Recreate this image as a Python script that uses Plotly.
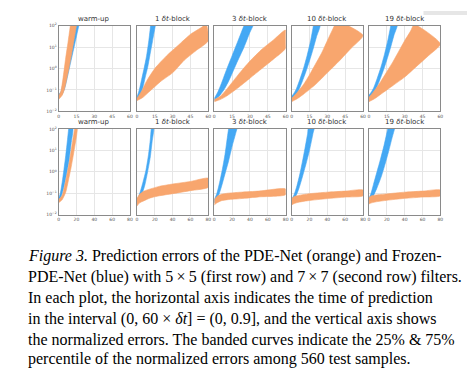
import plotly.graph_objects as go

W, H = 475, 369

TITLES = ["warm-up", "1 <i>δt</i>-block", "3 <i>δt</i>-block", "10 <i>δt</i>-block", "19 <i>δt</i>-block"]
ROW1_XTICKS = [0, 15, 30, 45, 60]
ROW2_XTICKS = [0, 20, 40, 60, 80]
Y_TICK_EXP = [-2, -1, 0, 1, 2]
Y_TICK_TEXT = ["10<sup>−2</sup>", "10<sup>−1</sup>", "10<sup>0</sup>", "10<sup>1</sup>", "10<sup>2</sup>"]
Y_LOG_RANGE = [-2, 2]

# Each edge: list of (time, log10 normalized error)
# ---- Row 1 (5x5 filters) ----
r1_warm_blue_hi = [(0, -1.22), (2, -1.08), (4, -0.6), (6, 0.1), (8, 0.8), (10, 1.5), (12, 2.2)]
r1_warm_blue_lo = [(0, -1.32), (3, -1.2), (5, -0.95), (7, -0.5), (9, 0.0), (11, 0.5), (13, 1.0), (15, 1.5), (17, 2.0), (18, 2.25)]
r1_warm_orange_hi = [(0, -1.3), (2, -1.05), (4, -0.35), (6, 0.5), (8, 1.25), (10, 2.05), (11, 2.4)]
r1_warm_orange_lo = [(0, -1.45), (3, -1.25), (5, -0.95), (7, -0.45), (9, 0.1), (11, 0.7), (13, 1.35), (15, 2.0), (16, 2.3)]

r1_b1_blue_hi = [(0, -1.35), (2, -1.0), (4, -0.5), (6, 0.0), (8, 0.55), (10, 1.3), (11.5, 2.0), (12, 2.2)]
r1_b1_blue_lo = [(0, -1.45), (3, -1.2), (5, -0.9), (7, -0.4), (9, 0.05), (11, 0.65), (13, 1.25), (15.5, 2.0), (16.5, 2.2)]
r1_b1_orange_hi = [(0, -1.4), (4, -1.05), (8, -0.6), (15, 0.0), (25, 0.6), (35, 1.1), (45, 1.6), (55, 1.95), (58, 2.1)]
r1_b1_orange_lo = [(0, -1.5), (5, -1.35), (10, -1.1), (20, -0.6), (30, -0.2), (40, 0.4), (50, 0.85), (60, 1.3)]

r1_b3_blue_hi = [(0, -1.4), (3, -1.1), (6, -0.7), (10, -0.1), (15, 0.6), (20, 1.3), (25, 2.0), (27, 2.2)]
r1_b3_blue_lo = [(0, -1.5), (4, -1.3), (8, -1.0), (12, -0.6), (16, -0.1), (20, 0.4), (25, 1.0), (30, 1.7), (33, 2.1)]
r1_b3_orange_hi = [(0, -1.45), (5, -1.3), (10, -1.0), (20, -0.3), (30, 0.35), (40, 0.9), (50, 1.35), (60, 1.8)]
r1_b3_orange_lo = [(0, -1.55), (5, -1.45), (10, -1.3), (20, -0.9), (30, -0.45), (40, 0.0), (50, 0.45), (60, 0.95)]

r1_b10_blue_hi = [(0, -1.3), (2, -1.15), (4, -0.95), (7, -0.5), (10, 0.0), (13, 0.6), (16, 1.3), (18, 1.9), (19, 2.2)]
r1_b10_blue_lo = [(0, -1.45), (3, -1.3), (6, -1.0), (9, -0.6), (12, -0.15), (15, 0.35), (18, 0.9), (21, 1.5), (24, 2.05)]
r1_b10_orange_hi = [(0, -1.4), (5, -1.1), (10, -0.75), (15, -0.3), (20, 0.2), (25, 0.7), (30, 1.3), (36, 2.0), (38, 2.2)]
r1_b10_orange_lo = [(0, -1.55), (5, -1.4), (10, -1.2), (20, -0.75), (30, -0.2), (40, 0.35), (50, 0.95), (60, 1.55)]

r1_b19_blue_hi = [(0, -1.25), (2, -1.1), (4, -0.9), (7, -0.45), (10, 0.05), (13, 0.65), (16, 1.35), (18, 1.9), (19, 2.2)]
r1_b19_blue_lo = [(0, -1.4), (3, -1.25), (6, -0.95), (9, -0.55), (12, -0.1), (15, 0.4), (18, 0.95), (21, 1.55), (24, 2.1)]
r1_b19_orange_hi = [(0, -1.35), (5, -1.0), (10, -0.6), (15, -0.15), (20, 0.3), (25, 0.8), (30, 1.3), (35, 1.75), (38, 2.05)]
r1_b19_orange_lo = [(0, -1.55), (5, -1.4), (10, -1.2), (20, -0.8), (30, -0.4), (40, 0.1), (50, 0.6), (60, 1.15)]

# ---- Row 2 (7x7 filters) ----
r2_warm_blue_hi = [(0, -1.25), (2, -1.0), (4, -0.5), (6, 0.1), (8, 0.75), (10, 1.5), (11, 1.9), (12, 2.2)]
r2_warm_blue_lo = [(0, -1.35), (3, -1.15), (6, -0.7), (9, -0.1), (12, 0.6), (14, 1.3), (16, 2.05)]
r2_warm_orange_hi = [(0, -1.3), (4, -1.1), (7, -0.6), (10, 0.0), (13, 0.7), (16, 1.5), (18, 2.0), (19, 2.3)]
r2_warm_orange_lo = [(0, -1.45), (4, -1.3), (8, -0.95), (11, -0.4), (14, 0.2), (17, 0.9), (20, 1.65), (21, 2.05)]

r2_b1_blue_hi = [(0, -1.4), (2, -1.15), (4, -0.9), (7, -0.45), (10, 0.05), (13, 0.8), (15, 1.5), (16, 2.0), (17, 2.3)]
r2_b1_blue_lo = [(0, -1.5), (3, -1.3), (6, -1.0), (9, -0.6), (12, 0.0), (15, 0.7), (17, 1.4), (19, 2.05)]
r2_b1_orange_hi = [(0, -1.25), (3, -1.05), (8, -0.9), (15, -0.8), (25, -0.68), (40, -0.57), (60, -0.45), (80, -0.3)]
r2_b1_orange_lo = [(0, -1.6), (3, -1.45), (8, -1.35), (15, -1.22), (25, -1.12), (40, -1.02), (60, -0.88), (80, -0.72)]

r2_b3_blue_hi = [(0, -1.3), (3, -1.0), (6, -0.5), (9, 0.1), (12, 0.8), (14, 1.4), (16, 2.0), (17, 2.3)]
r2_b3_blue_lo = [(0, -1.45), (4, -1.2), (8, -0.7), (12, -0.1), (16, 0.5), (20, 1.2), (24, 1.8), (26, 2.2)]
r2_b3_orange_hi = [(0, -1.3), (3, -1.15), (8, -1.05), (15, -1.0), (30, -0.95), (50, -0.9), (80, -0.8)]
r2_b3_orange_lo = [(0, -1.55), (3, -1.45), (8, -1.35), (15, -1.3), (30, -1.25), (50, -1.17), (80, -1.07)]

r2_b10_blue_hi = [(0, -1.3), (3, -1.05), (6, -0.65), (9, -0.15), (12, 0.45), (15, 1.1), (18, 1.8), (19, 2.1)]
r2_b10_blue_lo = [(0, -1.4), (4, -1.2), (8, -0.8), (12, -0.25), (16, 0.35), (20, 1.0), (24, 1.8), (26, 2.2)]
r2_b10_orange_hi = [(0, -1.25), (3, -1.15), (8, -1.1), (18, -1.03), (40, -0.95), (60, -0.9), (80, -0.85)]
r2_b10_orange_lo = [(0, -1.55), (3, -1.48), (8, -1.42), (18, -1.35), (40, -1.25), (60, -1.18), (80, -1.12)]

r2_b19_blue_hi = [(0, -1.25), (2, -1.05), (5, -0.6), (9, 0.0), (13, 0.6), (17, 1.25), (21, 2.0), (22, 2.2)]
r2_b19_blue_lo = [(0, -1.4), (4, -1.2), (9, -0.75), (14, -0.2), (18, 0.35), (22, 0.95), (26, 1.6), (29, 2.05), (30, 2.2)]
r2_b19_orange_hi = [(0, -1.2), (3, -1.12), (8, -1.08), (20, -1.03), (40, -0.95), (60, -0.9), (80, -0.85)]
r2_b19_orange_lo = [(0, -1.5), (3, -1.45), (8, -1.4), (20, -1.33), (40, -1.24), (60, -1.18), (80, -1.12)]

PANELS = [
    [(r1_warm_blue_hi, r1_warm_blue_lo, r1_warm_orange_hi, r1_warm_orange_lo),
     (r1_b1_blue_hi, r1_b1_blue_lo, r1_b1_orange_hi, r1_b1_orange_lo),
     (r1_b3_blue_hi, r1_b3_blue_lo, r1_b3_orange_hi, r1_b3_orange_lo),
     (r1_b10_blue_hi, r1_b10_blue_lo, r1_b10_orange_hi, r1_b10_orange_lo),
     (r1_b19_blue_hi, r1_b19_blue_lo, r1_b19_orange_hi, r1_b19_orange_lo)],
    [(r2_warm_blue_hi, r2_warm_blue_lo, r2_warm_orange_hi, r2_warm_orange_lo),
     (r2_b1_blue_hi, r2_b1_blue_lo, r2_b1_orange_hi, r2_b1_orange_lo),
     (r2_b3_blue_hi, r2_b3_blue_lo, r2_b3_orange_hi, r2_b3_orange_lo),
     (r2_b10_blue_hi, r2_b10_blue_lo, r2_b10_orange_hi, r2_b10_orange_lo),
     (r2_b19_blue_hi, r2_b19_blue_lo, r2_b19_orange_hi, r2_b19_orange_lo)],
]

CAPTION_LINES = [
    "<i>Figure 3.</i> Prediction errors of the PDE-Net (orange) and Frozen-",
    "PDE-Net (blue) with 5\u2009×\u20095 (first row) and 7\u2009×\u20097 (second row) filters.",
    "In each plot, the horizontal axis indicates the time of prediction",
    "in the interval (0, 60 × <i>δt</i>] = (0, 0.9], and the vertical axis shows",
    "the normalized errors. The banded curves indicate the 25% &amp; 75%",
    "percentile of the normalized errors among 560 test samples.",
]

BLUE = "#44A8F4"
ORANGE = "#F8A66E"

# layout geometry (pixels)
COL_PX = [(50, 122), (129, 201), (207, 279), (285, 357), (363, 435)]
ROW_PX = [(15, 102), (120, 207)]

fig = go.Figure()
layout = dict(width=W, height=H, margin=dict(l=0, r=0, t=0, b=0),
              paper_bgcolor="white", plot_bgcolor="white", showlegend=False)
annotations = []


def band(edge_hi, edge_lo, color, xa, ya):
    xs = [p[0] for p in edge_hi] + [p[0] for p in edge_lo][::-1]
    ys = [10 ** p[1] for p in edge_hi] + [10 ** p[1] for p in edge_lo][::-1]
    return go.Scatter(x=xs, y=ys, xaxis=xa, yaxis=ya, mode="lines",
                      line=dict(color=color, width=0.6, shape="spline", smoothing=0.6),
                      fill="toself", fillcolor=color, hoverinfo="skip")


k = 0
for r in range(2):
    for c in range(5):
        k += 1
        xa = "x" if k == 1 else f"x{k}"
        ya = "y" if k == 1 else f"y{k}"
        bh, bl, oh, ol = PANELS[r][c]
        fig.add_trace(band(bh, bl, BLUE, xa, ya))
        fig.add_trace(band(oh, ol, ORANGE, xa, ya))
        x0, x1 = COL_PX[c]
        y0, y1 = ROW_PX[r]
        ticks = ROW1_XTICKS if r == 0 else ROW2_XTICKS
        layout["xaxis" if k == 1 else f"xaxis{k}"] = dict(
            domain=[x0 / W, x1 / W], anchor=ya, range=[ticks[0], ticks[-1]],
            tickvals=ticks, ticks="", tickfont=dict(size=4.5, color="#555", family="DejaVu Sans"),
            showgrid=True, gridcolor="#e6e6e6", gridwidth=1, zeroline=False,
            showline=True, linecolor="#8a8a8a", linewidth=1, mirror=True, fixedrange=True,
        )
        layout["yaxis" if k == 1 else f"yaxis{k}"] = dict(
            domain=[1 - y1 / H, 1 - y0 / H], anchor=xa, type="log", range=Y_LOG_RANGE,
            tickvals=[10 ** e for e in Y_TICK_EXP], ticktext=Y_TICK_TEXT,
            showticklabels=(c == 0), ticks="",
            tickfont=dict(size=4.5, color="#555", family="DejaVu Sans"),
            showgrid=True, gridcolor="#e6e6e6", gridwidth=1, zeroline=False,
            showline=True, linecolor="#8a8a8a", linewidth=1, mirror=True, fixedrange=True,
        )
        annotations.append(dict(
            text=TITLES[c], xref="paper", yref="paper", x=(x0 + x1) / 2 / W,
            y=1 - (y0 - 1) / H, xanchor="center", yanchor="bottom", showarrow=False,
            font=dict(size=7, color="#333", family="DejaVu Sans")))

CAP_Y = [249, 270.5, 292, 313.5, 334, 354]
for line, yc in zip(CAPTION_LINES, CAP_Y):
    annotations.append(dict(
        text=line, xref="paper", yref="paper", x=17 / W, y=1 - yc / H,
        xanchor="left", yanchor="middle", showarrow=False, align="left",
        font=dict(size=16, color="#000", family="Liberation Serif")))

layout["annotations"] = annotations
layout["shapes"] = [dict(type="rect", xref="paper", yref="paper",
                         x0=418 / W, x1=472 / W, y0=1 - 4 / H, y1=1,
                         fillcolor="#d5d5d5", line=dict(width=0), opacity=0.6)]
fig.update_layout(**layout)
fig.write_html("out.html")
